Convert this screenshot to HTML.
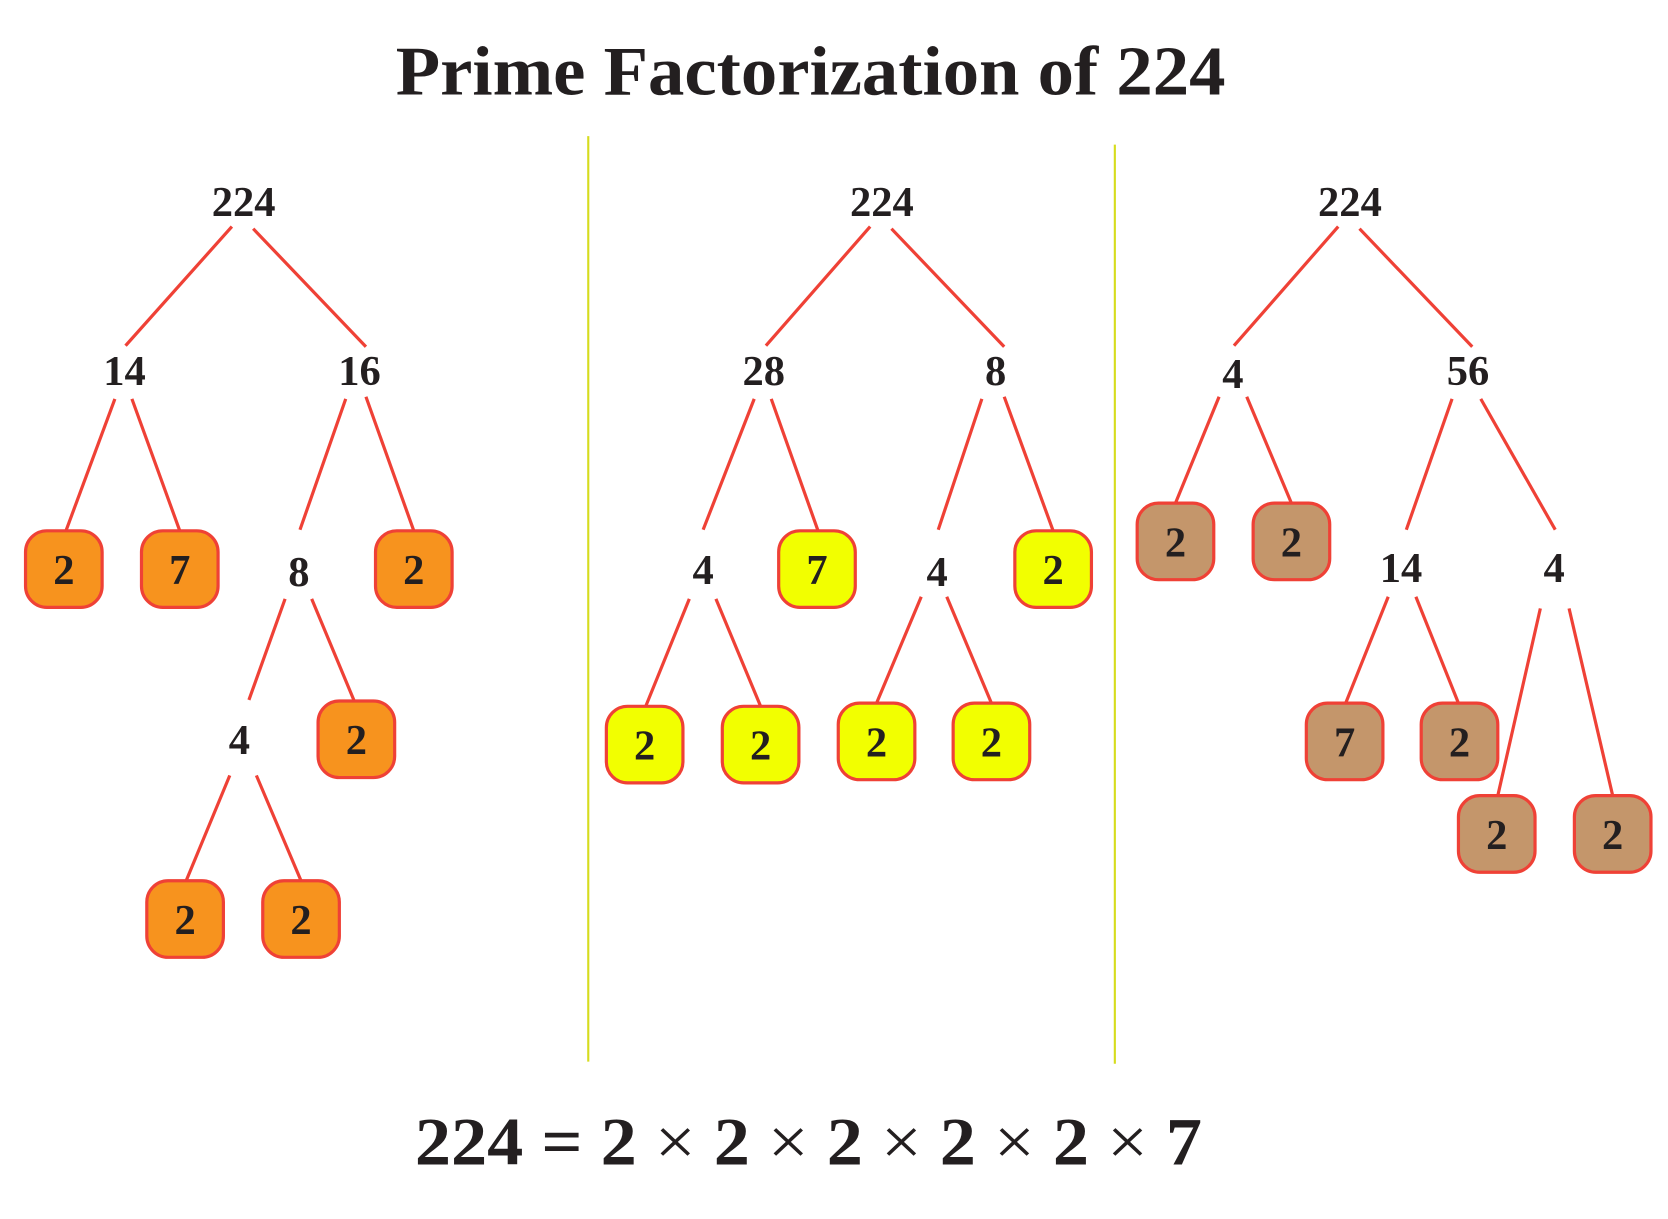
<!DOCTYPE html>
<html><head><meta charset="utf-8"><style>
html,body{margin:0;padding:0;background:#fff;}
svg{display:block;}
text{font-family:"Liberation Serif",serif;font-weight:bold;fill:#231f20;text-anchor:middle;}
.l{stroke:#ef4136;stroke-width:3;fill:none;}
.o{fill:#f7931e;stroke:#ef4136;stroke-width:3;}
.y{fill:#f2ff00;stroke:#ef4136;stroke-width:3;}
.t{fill:#c4966b;stroke:#ef4136;stroke-width:3;}
.n{font-size:40px;}
</style></head><body>
<svg width="1668" height="1219" viewBox="0 0 1568 1146" preserveAspectRatio="none" xmlns="http://www.w3.org/2000/svg">
<text x="762" y="89" font-size="66" textLength="780" lengthAdjust="spacingAndGlyphs">Prime Factorization of 224</text>
<line x1="553" y1="128" x2="553" y2="998" stroke="#d6dc1e" stroke-width="2"/>
<line x1="1048" y1="136" x2="1048" y2="1000" stroke="#d6dc1e" stroke-width="2"/>

<g class="l">
<line x1="218" y1="213" x2="118" y2="325"/><line x1="238" y1="215" x2="344" y2="326"/>
<line x1="108" y1="375" x2="62" y2="499"/><line x1="124" y1="375" x2="169" y2="499"/>
<line x1="325" y1="375" x2="282" y2="498"/><line x1="344" y1="373" x2="389" y2="499"/>
<line x1="268" y1="563" x2="234" y2="658"/><line x1="293" y1="563" x2="333" y2="659"/>
<line x1="216" y1="729" x2="175" y2="828"/><line x1="241" y1="729" x2="283" y2="828"/>

<line x1="818" y1="213" x2="720" y2="325"/><line x1="838" y1="215" x2="944" y2="326"/>
<line x1="709" y1="375" x2="661" y2="498"/><line x1="725" y1="375" x2="769" y2="499"/>
<line x1="923" y1="375" x2="882" y2="498"/><line x1="944" y1="373" x2="990" y2="499"/>
<line x1="648" y1="563" x2="607" y2="664"/><line x1="673" y1="563" x2="715" y2="664"/>
<line x1="866" y1="561" x2="824" y2="661"/><line x1="890" y1="561" x2="932" y2="661"/>

<line x1="1258" y1="213" x2="1160" y2="325"/><line x1="1278" y1="215" x2="1384" y2="326"/>
<line x1="1146" y1="373" x2="1105" y2="473"/><line x1="1172" y1="373" x2="1214" y2="473"/>
<line x1="1365" y1="375" x2="1322" y2="498"/><line x1="1392" y1="375" x2="1462" y2="498"/>
<line x1="1305" y1="561" x2="1265" y2="661"/><line x1="1331" y1="561" x2="1371" y2="661"/>
<line x1="1448" y1="572" x2="1408" y2="748"/><line x1="1475" y1="572" x2="1516" y2="748"/>
</g>

<g class="n">
<text x="229" y="203">224</text><text x="117" y="362">14</text><text x="338" y="362">16</text>
<text x="281" y="551">8</text><text x="225" y="709">4</text>
<text x="829" y="203">224</text><text x="718" y="362">28</text><text x="936" y="362">8</text>
<text x="661" y="549">4</text><text x="881" y="551">4</text>
<text x="1269" y="203">224</text><text x="1159" y="365">4</text><text x="1380" y="362">56</text>
<text x="1317" y="547">14</text><text x="1461" y="547">4</text>
</g>

<g>
<rect class="o" x="24" y="499" width="72" height="72" rx="20"/>
<rect class="o" x="133" y="499" width="72" height="72" rx="20"/>
<rect class="o" x="353" y="499" width="72" height="72" rx="20"/>
<rect class="o" x="299" y="659" width="72" height="72" rx="20"/>
<rect class="o" x="138" y="828" width="72" height="72" rx="20"/>
<rect class="o" x="247" y="828" width="72" height="72" rx="20"/>

<rect class="y" x="732" y="499" width="72" height="72" rx="20"/>
<rect class="y" x="954" y="499" width="72" height="72" rx="20"/>
<rect class="y" x="570" y="664" width="72" height="72" rx="20"/>
<rect class="y" x="679" y="664" width="72" height="72" rx="20"/>
<rect class="y" x="788" y="661" width="72" height="72" rx="20"/>
<rect class="y" x="896" y="661" width="72" height="72" rx="20"/>

<rect class="t" x="1069" y="473" width="72" height="72" rx="20"/>
<rect class="t" x="1178" y="473" width="72" height="72" rx="20"/>
<rect class="t" x="1228" y="661" width="72" height="72" rx="20"/>
<rect class="t" x="1336" y="661" width="72" height="72" rx="20"/>
<rect class="t" x="1371" y="748" width="72" height="72" rx="20"/>
<rect class="t" x="1480" y="748" width="72" height="72" rx="20"/>
</g>

<g class="n">
<text x="60" y="549">2</text><text x="169" y="549">7</text><text x="389" y="549">2</text>
<text x="335" y="709">2</text><text x="174" y="878">2</text><text x="283" y="878">2</text>
<text x="768" y="549">7</text><text x="990" y="549">2</text>
<text x="606" y="714">2</text><text x="715" y="714">2</text><text x="824" y="711">2</text><text x="932" y="711">2</text>
<text x="1105" y="523">2</text><text x="1214" y="523">2</text>
<text x="1264" y="711">7</text><text x="1372" y="711">2</text>
<text x="1407" y="798">2</text><text x="1516" y="798">2</text>
</g>

<text x="760" y="1095" font-size="64" textLength="740" lengthAdjust="spacingAndGlyphs">224 = 2 <tspan font-weight="normal">×</tspan> 2 <tspan font-weight="normal">×</tspan> 2 <tspan font-weight="normal">×</tspan> 2 <tspan font-weight="normal">×</tspan> 2 <tspan font-weight="normal">×</tspan> 7</text>
</svg>
</body></html>
